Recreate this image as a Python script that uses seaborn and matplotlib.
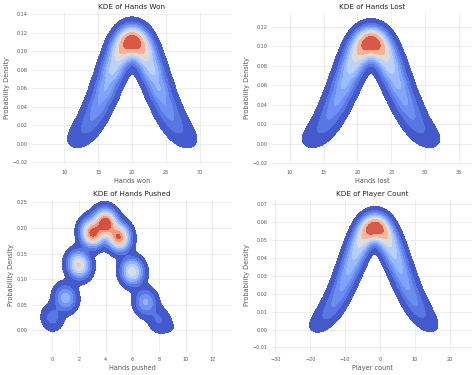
import numpy as np
import pandas as pd
import matplotlib
matplotlib.use("Agg")
import matplotlib.pyplot as plt
import seaborn as sns

# ---- data ----
won_x = list(range(8, 33))
won_y = [0.0001, 0.0003, 0.0009, 0.0028, 0.0072, 0.0150, 0.0260, 0.0407, 0.0588,
         0.0783, 0.0959, 0.1085, 0.1130, 0.1085, 0.0959, 0.0783, 0.0588, 0.0407,
         0.0260, 0.0150, 0.0072, 0.0028, 0.0009, 0.0003, 0.0001]

lost_x = list(range(10, 35))
lost_y = [0.0002, 0.0006, 0.0017, 0.0045, 0.0095, 0.0175, 0.0294, 0.0435, 0.0600,
          0.0770, 0.0919, 0.1023, 0.1060, 0.1023, 0.0919, 0.0770, 0.0600, 0.0435,
          0.0294, 0.0175, 0.0095, 0.0045, 0.0017, 0.0006, 0.0002]

pushed_x = list(range(0, 13))
pushed_y = [0.025, 0.063, 0.128, 0.190, 0.210, 0.182, 0.115, 0.055, 0.020, 0.004,
            0.001, 0.0005, 0.0002]

player_x = list(range(-25, 22))
player_y = [0.0001, 0.0001, 0.0001, 0.0002, 0.0005, 0.0010, 0.0018, 0.0030, 0.0045,
            0.0068, 0.0090, 0.0118, 0.0150, 0.0188, 0.0231, 0.0278, 0.0327, 0.0377,
            0.0426, 0.0472, 0.0512, 0.0544, 0.0567, 0.0578,
            0.0578, 0.0567, 0.0544, 0.0512, 0.0472, 0.0426, 0.0377, 0.0327, 0.0278,
            0.0231, 0.0188, 0.0150, 0.0118, 0.0090, 0.0062, 0.0040, 0.0024, 0.0013,
            0.0006, 0.0003, 0.0001, 0.0001, 0.0001]

titles = ["KDE of Hands Won", "KDE of Hands Lost", "KDE of Hands Pushed", "KDE of Player Count"]
xlabels = ["Hands won", "Hands lost", "Hands pushed", "Player count"]
ylabel = "Probability Density"

won_yticks = [-0.02, 0.0, 0.02, 0.04, 0.06, 0.08, 0.10, 0.12, 0.14]
lost_yticks = [-0.02, 0.0, 0.02, 0.04, 0.06, 0.08, 0.10, 0.12]
pushed_yticks = [0.0, 0.05, 0.10, 0.15, 0.20, 0.25]
player_yticks = [-0.01, 0.0, 0.01, 0.02, 0.03, 0.04, 0.05, 0.06, 0.07]

panels = [
    (won_x, won_y, 0.45, (5.2, 34.76), (-0.0216, 0.1425), [10, 15, 20, 25, 30], won_yticks),
    (lost_x, lost_y, 0.45, (7.4, 36.9), (-0.0205, 0.135), [10, 15, 20, 25, 30, 35], lost_yticks),
    (pushed_x, pushed_y, 0.34, (-1.52, 13.48), (-0.0407, 0.2559), [0, 2, 4, 6, 8, 10, 12], pushed_yticks),
    (player_x, player_y, 0.45, (-31.0, 26.4), (-0.012, 0.0726), [-30, -20, -10, 0, 10, 20], player_yticks),
]

sns.set_style("white")
plt.rcParams["font.family"] = ["DejaVu Sans"]
plt.rcParams["axes.unicode_minus"] = True

fig, axes = plt.subplots(2, 2, figsize=(4.74, 3.75), dpi=100)
fig.subplots_adjust(left=0.0675, right=0.9958, top=0.968, bottom=0.064,
                    wspace=0.2, hspace=0.237)

for ax, (xs, ys, bwa, xl, yl, xt, yt), title, xlab in zip(axes.flat, panels, titles, xlabels):
    df = pd.DataFrame({"x": xs, "y": ys})
    sns.kdeplot(data=df, x="x", y="y", weights="y", fill=True, cmap="coolwarm",
                bw_adjust=bwa, levels=10, thresh=0.03, ax=ax)
    ax.set_xlim(*xl)
    ax.set_ylim(*yl)
    ax.set_xticks(xt)
    ax.set_yticks(yt)
    ax.set_yticklabels([f"{v:.2f}".replace("-", "\u2212") for v in yt])
    ax.set_title(title, fontsize=5.2, color="#222222", pad=2.5)
    ax.set_xlabel(xlab, fontsize=4.7, color="#555555", labelpad=2.2)
    ax.set_ylabel(ylabel, fontsize=4.7, color="#555555", labelpad=2)
    ax.grid(True, color="#e8e8e8", linewidth=0.5)
    ax.set_axisbelow(True)
    for s in ax.spines.values():
        s.set_visible(False)
    ax.tick_params(axis="both", labelsize=3.5, labelcolor="#555555", color="#bbbbbb",
                   length=1.5, width=0.4)
    ax.tick_params(axis="x", pad=2.8)
    ax.tick_params(axis="y", pad=1.8)

fig.savefig("out.png", dpi=100)
